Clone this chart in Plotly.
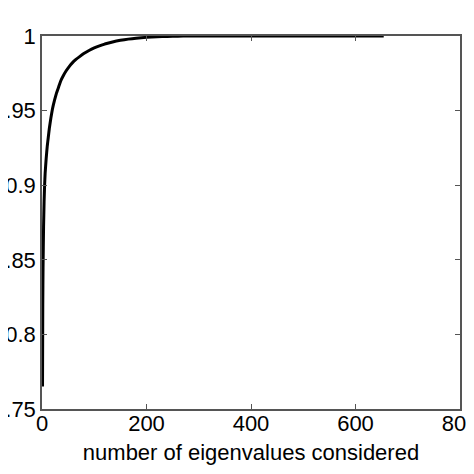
import plotly.graph_objects as go

n_eig = [1, 1.5, 2, 3, 4, 5, 6, 8, 10, 12, 14, 17, 20, 24, 28, 32, 36, 41, 46,
         52, 58, 65, 72, 80, 90, 100, 110, 120, 135, 150, 165, 180, 200, 220,
         240, 260, 280, 300, 400, 500, 654]
cum_ratio = [0.765, 0.82, 0.845, 0.872, 0.889, 0.900, 0.908, 0.918, 0.926,
             0.932, 0.938, 0.945, 0.951, 0.957, 0.962, 0.966, 0.970, 0.9735,
             0.9765, 0.9795, 0.982, 0.9843, 0.9862, 0.9882, 0.9903, 0.9920,
             0.9934, 0.9946, 0.9960, 0.9971, 0.9979, 0.9985, 0.9991, 0.9995,
             0.9997, 0.9999, 1.0, 1.0, 1.0, 1.0, 1.0]

x_ticks = [0, 200, 400, 600, 800]
y_ticks = [0.75, 0.8, 0.85, 0.9, 0.95, 1]
y_tick_text = ["0.75", "0.8", "0.85", "0.9", "0.95", "1"]

fig = go.Figure(go.Scatter(x=n_eig, y=cum_ratio, mode="lines",
                           line=dict(color="black", width=3, shape="spline", smoothing=0.3)))

axis_common = dict(showgrid=False, zeroline=False, showline=True, linecolor="#555555",
                   linewidth=1.5, mirror="allticks", ticks="inside", ticklen=5,
                   tickcolor="#555555", tickwidth=1, automargin=False,
                   ticklabeloverflow="allow",
                   tickfont=dict(family="Liberation Sans, Arial", size=22, color="black"))

fig.update_layout(
    width=474, height=474,
    margin=dict(l=34, r=22, t=28, b=73),
    paper_bgcolor="white", plot_bgcolor="white",
    showlegend=False,
    font=dict(family="Liberation Sans, Arial", size=22, color="black"),
    xaxis=dict(range=[0, 800], tickvals=x_ticks, ticktext=[str(v) for v in x_ticks],
               ticklabelstandoff=-6,
               title=dict(text="number of eigenvalues considered", standoff=9,
                          font=dict(size=22)), **axis_common),
    yaxis=dict(range=[0.75, 1], tickvals=y_ticks, ticktext=y_tick_text, **axis_common),
)

fig.write_html("out.html")
